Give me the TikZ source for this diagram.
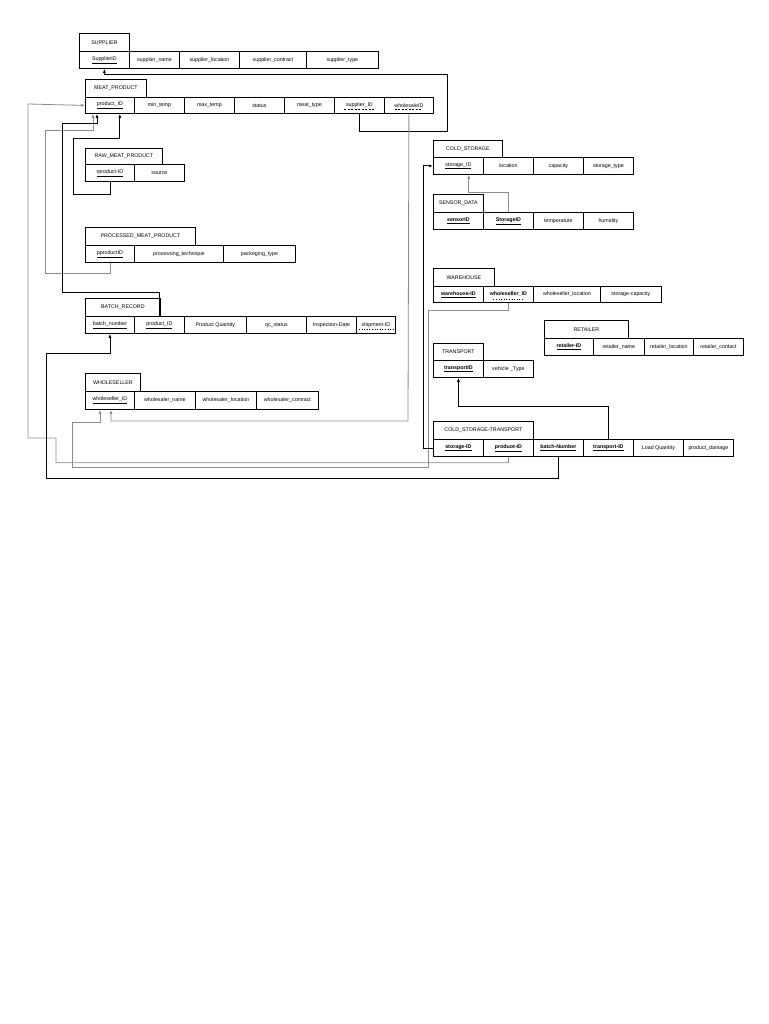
\documentclass[tikz,border=0pt]{standalone}
\usepackage{fontspec}
\setmainfont{Liberation Sans}
\usetikzlibrary{arrows.meta,calc}
\tikzset{
  cellbox/.style={draw,line width=0.8pt,inner sep=0pt,anchor=north west,font=\fontsize{5.3}{6}\selectfont},
  blk/.style={line width=0.8pt,draw=black},
  gry/.style={line width=0.8pt,draw=black!45},
  arr/.style={-{Latex[length=4pt,width=3pt]}},
}
\newcommand\cel[6]{\node[cellbox,minimum width={#3pt-#2pt},minimum height={#5pt-#4pt}] (#1) at (#2,#4) {#6};}
\newcommand\ul[1]{\underline{#1}}
\newcommand\bu[1]{\textbf{\underline{#1}}}
\begin{document}
\begin{tikzpicture}[x=1pt,y=-1pt]
\useasboundingbox (0,0) rectangle (768,1024);
% SUPPLIER
\cel{supT}{79}{129}{33}{51}{SUPPLIER}
\cel{sup1}{79}{129}{51}{68}{\ul{SupplierID}}
\cel{sup2}{129}{179}{51}{68}{supplier\_name}
\cel{sup3}{179}{239}{51}{68}{supplier\_location}
\cel{sup4}{239}{306}{51}{68}{supplier\_contract}
\cel{sup5}{306}{378}{51}{68}{supplier\_type}
% MEAT_PRODUCT
\cel{mpT}{85}{146}{79}{97}{MEAT\_PRODUCT}
\cel{mp1}{85}{134}{97}{113}{\ul{product\_ID}}
\cel{mp2}{134}{184}{97}{113}{min\_temp}
\cel{mp3}{184}{234}{97}{113}{max\_temp}
\cel{mp4}{234}{284}{97}{113}{status}
\cel{mp5}{284}{334}{97}{113}{meat\_type}
\cel{mp6}{334}{384}{97}{113}{supplier\_ID}
\cel{mp7}{384}{433}{97}{113}{wholesaleID}
\draw[dashed,line width=0.6pt,dash pattern=on 2pt off 1.5pt] ($(mp6.center)+(-15,4)$) -- ($(mp6.center)+(15,4)$);
\draw[dashed,line width=0.6pt,dash pattern=on 2pt off 1.5pt] ($(mp7.center)+(-14,4)$) -- ($(mp7.center)+(14,4)$);
% RAW
\cel{rmT}{85}{162}{148}{164}{RAW\_MEAT\_PRODUCT}
\cel{rm1}{85}{134}{164}{181}{\ul{rproduct-ID}}
\cel{rm2}{134}{184}{164}{181}{source}
% PROCESSED
\cel{pmT}{85}{195}{227}{245}{PROCESSED\_MEAT\_PRODUCT}
\cel{pm1}{85}{134}{245}{262}{\ul{pproductID}}
\cel{pm2}{134}{223}{245}{262}{processing\_technique}
\cel{pm3}{223}{295}{245}{262}{packeging\_type}
% BATCH
\cel{brT}{85}{160}{298}{316}{BATCH\_RECORD}
\cel{br1}{85}{134}{316}{333}{\ul{batch\_number}}
\cel{br2}{134}{184}{316}{333}{\ul{product\_ID}}
\cel{br3}{184}{246}{316}{333}{Product Quantity}
\cel{br4}{246}{306}{316}{333}{qc\_status}
\cel{br5}{306}{356}{316}{333}{Inspection-Date}
\cel{br6}{356}{395}{316}{333}{shipment-ID}
\draw[dotted,line width=0.6pt] ($(br6.center)+(-17,4)$) -- ($(br6.center)+(17,4)$);
% WHOLESELLER
\cel{wsT}{85}{140}{373}{391}{WHOLESELLER}
\cel{ws1}{85}{134}{391}{409}{\ul{wholeseller\_ID}}
\cel{ws2}{134}{195}{391}{409}{wholesaler\_name}
\cel{ws3}{195}{256}{391}{409}{wholesaler\_location}
\cel{ws4}{256}{318}{391}{409}{wholesaler\_contract}
% COLD_STORAGE
\cel{csT}{433}{502}{140}{157}{COLD\_STORAGE}
\cel{cs1}{433}{483}{157}{174}{\ul{storage\_ID}}
\cel{cs2}{483}{533}{157}{174}{location}
\cel{cs3}{533}{583}{157}{174}{capacity}
\cel{cs4}{583}{633}{157}{174}{storage\_type}
% SENSOR
\cel{sdT}{433}{483}{194}{212}{SENSOR\_DATA}
\cel{sd1}{433}{483}{212}{229}{\bu{sensorID}}
\cel{sd2}{483}{533}{212}{229}{\bu{StorageID}}
\cel{sd3}{533}{583}{212}{229}{temperature}
\cel{sd4}{583}{633}{212}{229}{humidity}
% WAREHOUSE
\cel{whT}{433}{494}{268}{286}{WAREHOUSE}
\cel{wh1}{433}{483}{286}{302}{\bu{warehouse-ID}}
\cel{wh2}{483}{533}{286}{302}{\textbf{wholeseller\_ID}}
\cel{wh3}{533}{600}{286}{302}{wholeseller\_location}
\cel{wh4}{600}{661}{286}{302}{storage-capacity}
\draw[dotted,line width=0.6pt] ($(wh2.center)+(-15,5)$) -- ($(wh2.center)+(15,5)$);
% RETAILER
\cel{rtT}{544}{628}{320}{338}{RETAILER}
\cel{rt1}{544}{593}{338}{355}{\bu{retailer-ID}}
\cel{rt2}{593}{644}{338}{355}{retailer\_name}
\cel{rt3}{644}{693}{338}{355}{retailer\_location}
\cel{rt4}{693}{743}{338}{355}{retailer\_contact}
% TRANSPORT
\cel{trT}{433}{483}{343}{360}{TRANSPORT}
\cel{tr1}{433}{483}{360}{377}{\bu{transportID}}
\cel{tr2}{483}{533}{360}{377}{vehicle \_Type}
% CST
\cel{ctT}{433}{533}{421}{439}{COLD\_STORAGE-TRANSPORT}
\cel{ct1}{433}{483}{439}{456}{\bu{storage-ID}}
\cel{ct2}{483}{533}{439}{456}{\bu{produot-ID}}
\cel{ct3}{533}{583}{439}{456}{\bu{batch-Number}}
\cel{ct4}{583}{633}{439}{456}{\bu{transport-ID}}
\cel{ct5}{633}{683}{439}{456}{Load Quantity}
\cel{ct6}{683}{733}{439}{456}{product\_damage}
% connectors
\draw[blk,arr] (mp6.south) -- ++(0,18) -| (447,74) -| (sup1.south);
\draw[blk,arr] (rm1.south) -- ++(0,13) -| (73,138) -| ([xshift=-15pt]mp1.south east);
\draw[gry,arr] (pm1.south) -- ++(0,11) -| (45,130) -| ([xshift=8pt]mp1.south west);
\draw[blk,arr] (br2.north) -- ++(0,-24) -| (62,123) -| ([xshift=12pt]mp1.south west);
\draw[gry,arr] (ct2.south) -- ++(0,6) -| (56,438) -| (28,104) -- (mp1.west);
\draw[blk,arr] (ct3.south) -- ++(0,22) -| (46,353) -| (br1.south);
\draw[gry,arr] (wh2.south) -- ++(0,8) -| (428,467) -| (72,422) -| ([xshift=15pt]ws1.south west);
\draw[gry,arr] (mp7.south) -- (408,421) -| ([xshift=26pt]ws1.south west);
\draw[blk,arr] (ct1.west) -- ++(-10,0) |- (cs1.west);
\draw[gry,arr] (sd2.north) -- ++(0,-20) -| ([xshift=-15pt]cs1.south east);
\draw[blk,arr] (ct4.north) -- ++(0,-33) -| (tr1.south);
\end{tikzpicture}
\end{document}
